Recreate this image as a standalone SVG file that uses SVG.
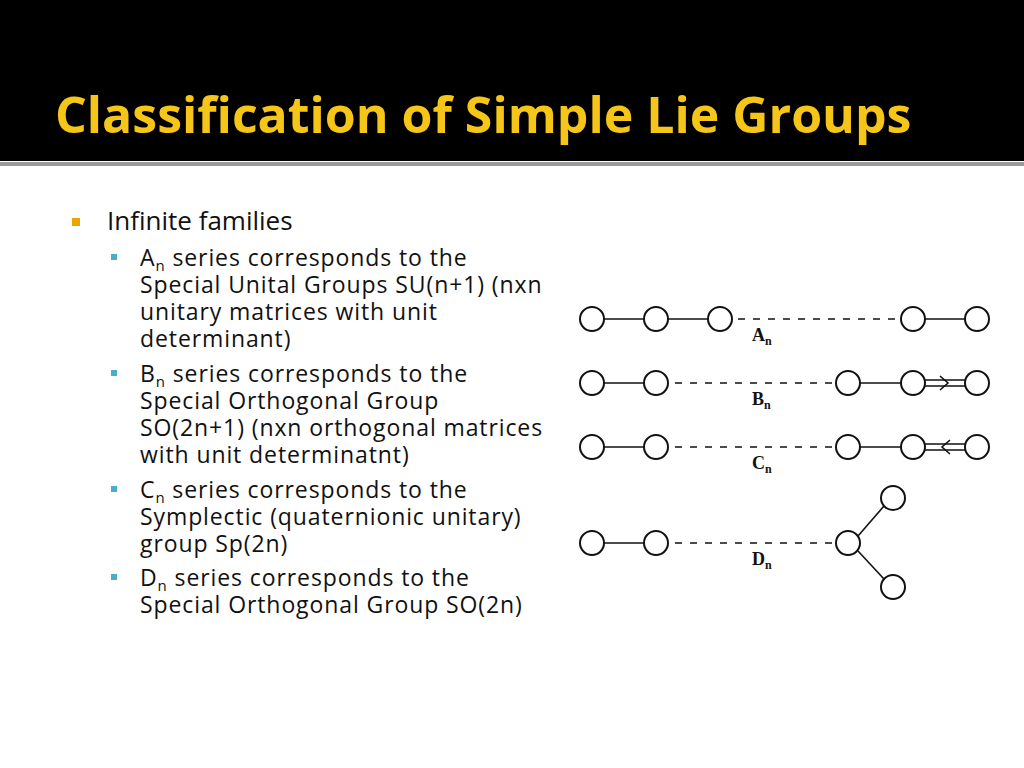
<svg xmlns="http://www.w3.org/2000/svg" width="1024" height="768" viewBox="0 0 1024 768">
<defs><style>
.t{font-family:"Open Sans","Liberation Sans",sans-serif;fill:#111}
.l1{font-size:26px}.l2{font-size:23px;letter-spacing:0.9px}
.n{fill:#fff;stroke:#111;stroke-width:2}
.e{stroke:#111;stroke-width:1.6;fill:none}
.d{stroke:#111;stroke-width:1.6;stroke-dasharray:7,8}
.lb{font-family:"Liberation Serif",serif;font-weight:bold;font-size:18px;fill:#111}
.sb{font-size:12px}
</style></defs>
<rect width="1024" height="768" fill="#fff"/>
<rect width="1024" height="161" fill="#000"/>
<rect y="162" width="1024" height="4" fill="#9a9a9a"/>
<text x="55" y="133" font-family="Open Sans,Liberation Sans,sans-serif" font-weight="bold" font-size="50" fill="#f5c518">Classification of Simple Lie Groups</text>
<g id="text">
<rect x="72" y="218" width="8" height="8" fill="#e8a800"/>
<text class="t l1" x="107" y="230">Infinite families</text>
<g fill="#4aacc6"><rect x="111" y="254" width="6" height="6"/><rect x="111" y="370" width="6" height="6"/><rect x="111" y="486" width="6" height="6"/><rect x="111" y="574" width="6" height="6"/></g>
<text class="t l2" x="140" y="266">A<tspan font-size="15" dy="5">n</tspan><tspan dy="-5"> series corresponds to the</tspan></text>
<text class="t l2" x="140" y="293">Special Unital Groups SU(n+1) (nxn</text>
<text class="t l2" x="140" y="320">unitary matrices with unit</text>
<text class="t l2" x="140" y="347">determinant)</text>
<text class="t l2" x="140" y="382">B<tspan font-size="15" dy="5">n</tspan><tspan dy="-5">  series corresponds to the</tspan></text>
<text class="t l2" x="140" y="409">Special Orthogonal Group</text>
<text class="t l2" x="140" y="436">SO(2n+1) (nxn orthogonal matrices</text>
<text class="t l2" x="140" y="463">with unit determinatnt)</text>
<text class="t l2" x="140" y="498">C<tspan font-size="15" dy="5">n</tspan><tspan dy="-5"> series corresponds to the</tspan></text>
<text class="t l2" x="140" y="525">Symplectic (quaternionic unitary)</text>
<text class="t l2" x="140" y="552">group Sp(2n)</text>
<text class="t l2" x="140" y="586">D<tspan font-size="15" dy="5">n</tspan><tspan dy="-5"> series corresponds to the</tspan></text>
<text class="t l2" x="140" y="613">Special Orthogonal Group SO(2n)</text>
</g>
<g id="connectors">
<line class="e" x1="604" y1="319" x2="644" y2="319"/><line class="e" x1="668" y1="319" x2="708" y2="319"/>
<line class="d" x1="738" y1="319" x2="900" y2="319"/><line class="e" x1="925" y1="319" x2="965" y2="319"/>
<line class="e" x1="604" y1="383" x2="644" y2="383"/><line class="d" x1="675" y1="383" x2="836" y2="383"/>
<line class="e" x1="860" y1="383" x2="901" y2="383"/>
<line class="e" x1="925" y1="380" x2="965" y2="380"/><line class="e" x1="925" y1="386" x2="965" y2="386"/>
<polyline class="e" points="940,376 948,383 940,390"/>
<line class="e" x1="604" y1="447" x2="644" y2="447"/><line class="d" x1="675" y1="447" x2="836" y2="447"/>
<line class="e" x1="860" y1="447" x2="901" y2="447"/>
<line class="e" x1="925" y1="444" x2="965" y2="444"/><line class="e" x1="925" y1="450" x2="965" y2="450"/>
<polyline class="e" points="950,440 942,447 950,454"/>
<line class="e" x1="604" y1="543" x2="644" y2="543"/><line class="d" x1="675" y1="543" x2="836" y2="543"/>
<line class="e" x1="858" y1="536" x2="884" y2="506"/><line class="e" x1="858" y1="551" x2="884" y2="579"/>
</g>
<g id="nodes">
<circle class="n" cx="592" cy="319" r="12"/><circle class="n" cx="656" cy="319" r="12"/><circle class="n" cx="720" cy="319" r="12"/><circle class="n" cx="913" cy="319" r="12"/><circle class="n" cx="977" cy="319" r="12"/>
<circle class="n" cx="592" cy="383" r="12"/><circle class="n" cx="656" cy="383" r="12"/><circle class="n" cx="848" cy="383" r="12"/><circle class="n" cx="913" cy="383" r="12"/><circle class="n" cx="977" cy="383" r="12"/>
<circle class="n" cx="592" cy="447" r="12"/><circle class="n" cx="656" cy="447" r="12"/><circle class="n" cx="848" cy="447" r="12"/><circle class="n" cx="913" cy="447" r="12"/><circle class="n" cx="977" cy="447" r="12"/>
<circle class="n" cx="592" cy="543" r="12"/><circle class="n" cx="656" cy="543" r="12"/><circle class="n" cx="848" cy="543" r="12"/><circle class="n" cx="893" cy="498" r="12"/><circle class="n" cx="893" cy="587" r="12"/>
</g>
<g id="labels">
<text class="lb" x="752" y="341">A<tspan class="sb" dy="4">n</tspan></text>
<text class="lb" x="752" y="405">B<tspan class="sb" dy="4">n</tspan></text>
<text class="lb" x="752" y="469">C<tspan class="sb" dy="4">n</tspan></text>
<text class="lb" x="752" y="565">D<tspan class="sb" dy="4">n</tspan></text>
</g>
</svg>
